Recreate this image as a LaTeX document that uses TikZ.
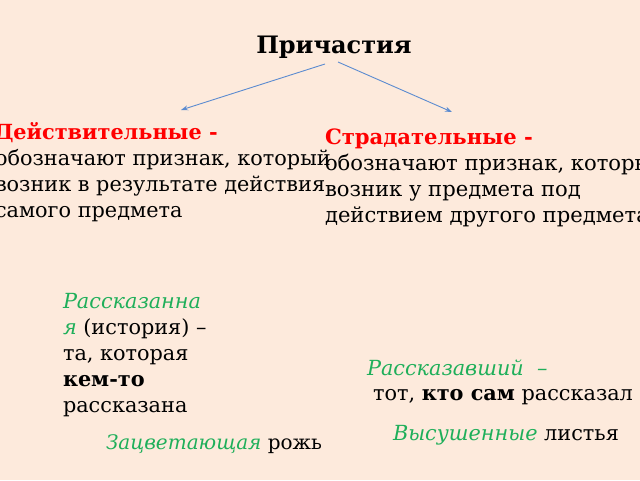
\documentclass[tikz,border=0pt]{standalone}
\usepackage{fontspec}
\setmainfont{DejaVu Serif}
\usetikzlibrary{arrows.meta}
\definecolor{bgpeach}{HTML}{FDEADC}
\definecolor{arrowblue}{HTML}{5B8BD0}
\definecolor{termgreen}{HTML}{1FAF5A}
\definecolor{headred}{HTML}{FF0000}
\tikzset{
  txt/.style={inner sep=0pt, outer sep=0pt, anchor=base west, align=left,
    font=\fontsize{20.8}{26}\selectfont, text=black},
  ttl/.style={inner sep=0pt, outer sep=0pt, anchor=base,
    font=\fontsize{24}{28}\selectfont\bfseries},
  link/.style={draw=arrowblue, line width=0.9pt, -{Stealth[length=7pt,width=5pt]}},
}
\begin{document}
\begin{tikzpicture}[x=1pt,y=-1pt]
\useasboundingbox (0,0) rectangle (640,480);
\fill[bgpeach] (0,0) rectangle (640,480);
\clip (0,0) rectangle (640,480);

\node[ttl] (title) at (334,53) {Причастия};

\coordinate (lstart) at (325,64);
\coordinate (lend) at (181,110);
\coordinate (rstart) at (338,62);
\coordinate (rend) at (452,112);
\draw[link] (lstart) -- (lend);
\draw[link] (rstart) -- (rend);

% multi-line nodes: base anchor = baseline of last line
\node[txt] (active) at (-5,217) {\textcolor{headred}{\bfseries Действительные -}\\
обозначают признак, который\\
возник в результате действия\\
самого предмета};

\node[txt, font=\fontsize{21.1}{26}\selectfont] (passive) at (325,222) {\textcolor{headred}{\bfseries Страдательные -}\\
обозначают признак, который\\
возник у предмета под\\
действием другого предмета};

\node[txt] (ex1) at (63,412) {\textcolor{termgreen}{\itshape Рассказанна}\\
\textcolor{termgreen}{\itshape я} (история) –\\
та, которая\\
\bfseries кем-то\\
рассказана};

\node[txt, font=\fontsize{20}{26}\selectfont] (ex2) at (106,449) {\textcolor{termgreen}{\itshape Зацветающая} рожь};

\node[txt] (ex3) at (367,375) {\textcolor{termgreen}{\itshape Рассказавший~ –}};
\node[txt] (ex4) at (373,400) {тот, \textbf{кто сам} рассказал};
\node[txt] (ex5) at (393,440) {\textcolor{termgreen}{\itshape Высушенные} листья};
\end{tikzpicture}
\end{document}
